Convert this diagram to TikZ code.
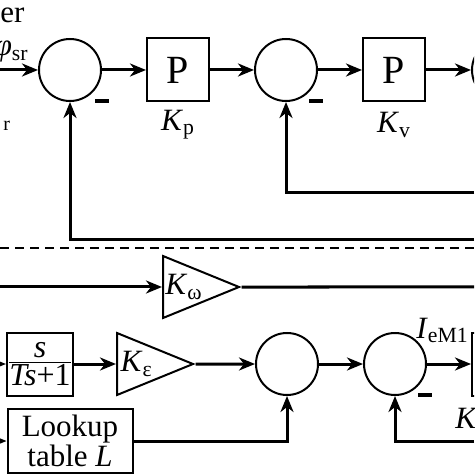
\documentclass[tikz,border=0pt]{standalone}
\usepackage{fontspec}
\setmainfont{Liberation Serif}
\usetikzlibrary{
    arrows.meta,
    calc,
    positioning,
    shapes.geometric
}

\tikzset{
    sumnode/.style={draw,circle,line width=1pt,minimum size=31pt,inner sep=0pt},
    blockbox/.style={draw,rectangle,line width=1pt,minimum width=31pt,minimum height=31.5pt,inner sep=0pt},
    gainnode/.style={draw,isosceles triangle,isosceles triangle stretches,line width=1pt,
        minimum width=31pt,minimum height=38pt,inner sep=0pt},
    signal/.style={line width=1.5pt},
    minussign/.style={inner sep=0pt}
}

\begin{document}
\begin{tikzpicture}[x=0.5pt,y=-0.5pt,>={Stealth[length=8pt,width=6.5pt,inset=2.5pt]},
    font=\fontsize{15.5}{17}\selectfont]

% Frame of the cut-out
\path[use as bounding box,clip] (0,0) rectangle (474,474);

% Upper loop: position and speed controllers
\node[sumnode] (s1) at (70,70) {};
\node[blockbox,font=\fontsize{20}{22}\selectfont] (p1) at (178,70) {P};
\node[sumnode] (s2) at (286,70) {};
\node[blockbox,font=\fontsize{20}{22}\selectfont] (p2) at (394,70) {P};
\node[sumnode] (s5) at (503,70) {};
\node (kp) at (178,125) {\textit{K}\textsubscript{p}};
\node (kv) at (394,125) {\textit{K}\textsubscript{v}};
\node[minussign] (m1) at (102,101) {\rule{7pt}{1.6pt}};
\node[minussign] (m2) at (316,101) {\rule{7pt}{1.6pt}};

% Texts at the left edge
\node[anchor=base west,inner sep=0pt] (ttl) at (0,23) {er};
\node[anchor=base east,inner sep=0pt] (phisr) at (29,56) {\textit{φ}\textsubscript{sr}};
\node[anchor=base west,inner sep=0pt,font=\fontsize{10}{12}\selectfont] (rsub) at (3,131) {r};

\coordinate (in1) at (0,70);
\draw[signal,->] (in1) -- (s1);
\draw[signal,->] (s1) -- (p1);
\draw[signal,->] (p1) -- (s2);
\draw[signal,->] (s2) -- (p2);
\draw[signal,->] (p2) -- (s5);

% Feedback paths
\coordinate (fb1) at (474,240);
\coordinate (fb2) at (474,193);
\draw[signal,->] (fb1) -| (s1.south);
\draw[signal,->] (fb2) -| (s2.south);

% Dividing line
\draw[line width=1pt,dash pattern=on 4.5pt off 3pt] (0,248) -- (474,248);

% Speed feed-forward gain
\coordinate (in2) at (0,287);
\coordinate (out2) at (474,287);
\node[gainnode,anchor=west] (kw) at (162,287) {\textit{K}\textsubscript{ω}};
\draw[signal,->] (in2) -- (kw.west);
\draw[signal] (kw.east) -- (out2);

% Lower path: current reference
\coordinate (in3) at (0,364);
\node[blockbox,minimum width=31.5pt,font=\fontsize{16}{18}\selectfont] (tf) at (40,364) {$\frac{\textit{s}}{\textit{Ts}\textrm{+1}}$};
\node[gainnode,anchor=west] (ke) at (116,364) {\textit{K}\textsubscript{ε}};
\node[sumnode] (s3) at (287,364) {};
\node[sumnode] (s4) at (395,364) {};
\node[blockbox] (bx) at (503,364) {};
\node[anchor=base west,inner sep=0pt] (ie) at (416,338) {\textit{I}\textsubscript{eM1}};
\node[minussign] (m3) at (425,395) {\rule{7pt}{1.6pt}};
\node[anchor=base west,inner sep=0pt] (kx) at (455,428) {\textit{K}};

\draw[signal,->] (in3) -- (tf);
\draw[signal,->] (tf) -- (ke.west);
\draw[signal,->] (ke.east) -- (s3);
\draw[signal,->] (s3) -- (s4);
\draw[signal,->] (s4) -- (bx);

% Lookup table branch
\coordinate (in4) at (0,441);
\node[draw,line width=1pt,align=center,minimum width=62.5pt,minimum height=32pt,inner sep=0pt] (lk) at (70,441) {Lookup\\[-2pt]table \textit{L}};
\draw[signal,->] (in4) -- (lk);
\draw[signal,->] (lk.east) -| (s3.south);

\coordinate (fb3) at (474,441);
\draw[signal,->] (fb3) -| (s4.south);

\end{tikzpicture}
\end{document}
